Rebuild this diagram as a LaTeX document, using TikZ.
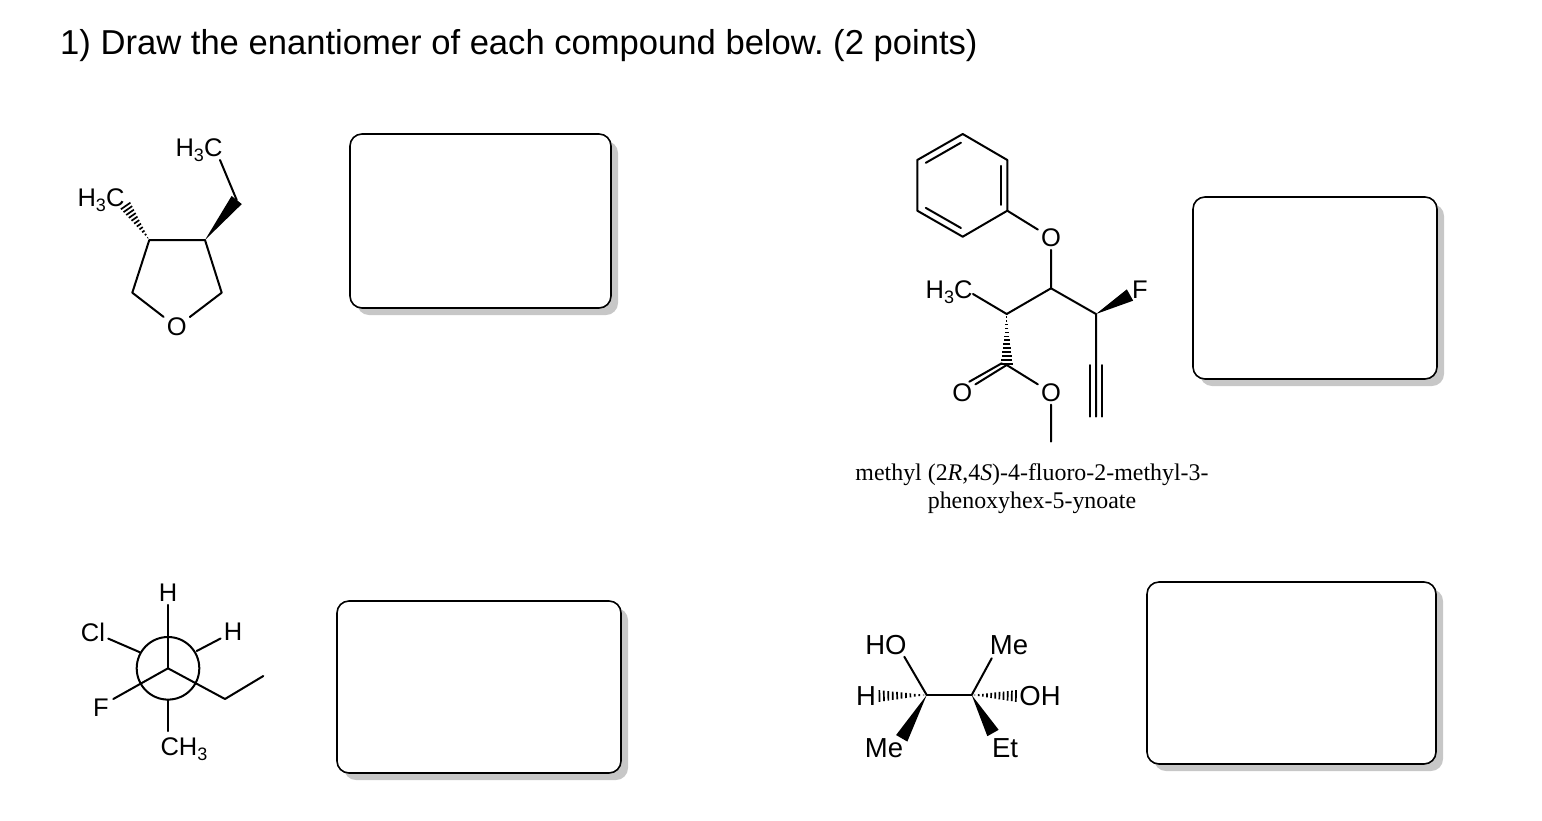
\documentclass[tikz,border=0pt]{standalone}
\usepackage{fontspec}
\setmainfont{Liberation Sans}
\newfontfamily\namefont{Liberation Serif}
\usetikzlibrary{calc,shadows}
\definecolor{shadowgray}{gray}{0.78}
\frenchspacing
\newcommand{\subnum}[1]{\raisebox{-4.5pt}{\fontsize{18}{18}\selectfont #1}}
\newcommand{\wedgebond}[2]{\fill ($(#2)!6.5pt!90:(#1)$) -- (#1) -- ($(#2)!6.5pt!-90:(#1)$) -- cycle;}
\newcommand{\hashbond}[3][11]{
	\foreach \i in {1,...,#1} {
		\pgfmathsetmacro{\t}{(\i-0.3)/#1}
		\coordinate (hashpt) at ($(#2)!\t!(#3)$);
		\draw[hashline] ($(hashpt)!\t*6pt!90:(#3)$) -- ($(hashpt)!\t*6pt!-90:(#3)$);
	}
}
\tikzset{
	bond/.style={line width=2pt, line cap=round, line join=round},
	hashline/.style={line width=1.7pt},
	atom/.style={inner sep=3pt, font=\fontsize{25.5}{28}\selectfont},
	bigatom/.style={atom, inner sep=2pt, font=\fontsize{27.5}{30}\selectfont},
	answerbox/.style={draw, line width=1.6pt, fill=white, rounded corners=12pt, drop shadow={shadow xshift=7pt, shadow yshift=-7pt, fill=shadowgray, opacity=1}},
}

\begin{document}
\begin{tikzpicture}[x=1pt, y=-1pt]
	\useasboundingbox (0,0) rectangle (1542,820);
	\node[anchor=west, inner sep=0pt, font=\fontsize{34.6}{40}\selectfont] (title) at (60,46) {1) Draw the enantiomer of each compound below. (2 points)};

	% answer boxes
	\node[answerbox, minimum width=261pt, minimum height=174pt] (boxa) at (480.5,221) {};
	\node[answerbox, minimum width=244pt, minimum height=182pt] (boxb) at (1315,288) {};
	\node[answerbox, minimum width=284pt, minimum height=172pt] (boxc) at (479,687) {};
	\node[answerbox, minimum width=289pt, minimum height=182pt] (boxd) at (1291.5,673) {};

	% oxolane
	\coordinate (ca) at (149.3,240);
	\coordinate (cb) at (205,240);
	\coordinate (cc) at (221.7,292.7);
	\coordinate (cd) at (132.3,292.7);
	\coordinate (ce) at (236.7,200);
	\coordinate (cf) at (220,160);
	\coordinate (cg) at (125,205);
	\node[atom] (oa) at (176.7,327) {O};
	\node[atom] (ma) at (199,150) {H\subnum{3}C};
	\node[atom] (mb) at (101,200) {H\subnum{3}C};
	\draw[bond] (ca) -- (cb) -- (cc) -- (oa) -- (cd) -- (ca);
	\draw[bond] (ce) -- (cf);
	\wedgebond{cb}{ce}
	\hashbond{ca}{cg}

	% ester
	\coordinate (ra) at (962.7,134);
	\coordinate (rb) at (1007.3,160);
	\coordinate (rc) at (1007.3,210.7);
	\coordinate (rd) at (962.7,236.7);
	\coordinate (re) at (917.3,210.7);
	\coordinate (rf) at (917.3,160);
	\coordinate (rg) at (962.5,185.3);
	\coordinate (sa) at (1051,288.3);
	\coordinate (sb) at (1006.7,314);
	\coordinate (sc) at (1096,314);
	\coordinate (sd) at (1006.7,365);
	\coordinate (se) at (1096,365);
	\coordinate (sf) at (1096,416.7);
	\coordinate (sg) at (1051,441.7);
	\coordinate (sh) at (1130,295);
	\coordinate (si) at (973,294);
	\coordinate (sj) at (1001.7,363.3);
	\coordinate (sk) at (969.3,381.7);
	\node[atom] (ob) at (1051,237.7) {O};
	\node[atom] (oc) at (962.3,392.5) {O};
	\node[atom] (od) at (1051,392.5) {O};
	\node[atom] (fa) at (1140,290) {F};
	\node[atom] (mc) at (949,292) {H\subnum{3}C};
	\draw[bond] (ra) -- (rb) -- (rc) -- (rd) -- (re) -- (rf) -- cycle;
	\draw[bond, shorten >=2pt, shorten <=2pt] ($(rf)!.15!(rg)$) -- ($(ra)!.15!(rg)$);
	\draw[bond, shorten >=2pt, shorten <=2pt] ($(rb)!.15!(rg)$) -- ($(rc)!.15!(rg)$);
	\draw[bond, shorten >=2pt, shorten <=2pt] ($(rd)!.15!(rg)$) -- ($(re)!.15!(rg)$);
	\draw[bond] (rc) -- (ob) -- (sa) -- (sb);
	\draw[bond] (sa) -- (sc) -- (sf);
	\draw[bond] (sb) -- (si);
	\draw[bond] (sd) -- (od) -- (sg);
	\draw[bond] (sd) -- (oc);
	\draw[bond] (sj) -- (sk);
	\draw[bond] ([xshift=-6.2pt]se) -- ([xshift=-6.2pt]sf);
	\draw[bond] ([xshift=6.2pt]se) -- ([xshift=6.2pt]sf);
	\wedgebond{sc}{sh}
	\hashbond[13]{sb}{sd}
	\node[align=center, font={\namefont\fontsize{23.9}{28}\selectfont}, inner sep=0pt] (name) at (1032,489) {methyl (2\textit{R},4\textit{S})-4-fluoro-2-methyl-3-\\phenoxyhex-5-ynoate};

	% newman projection
	\coordinate (na) at (168,668.3);
	\coordinate (nb) at (113.3,699);
	\coordinate (nc) at (225,699);
	\coordinate (nd) at (263.3,676);
	\coordinate (ne) at (140,652.3);
	\coordinate (nf) at (196.7,651);
	\coordinate (ng) at (168,700);
	\coordinate (nh) at (168,731);
	\node[draw, circle, line width=2pt, minimum size=62.6pt, inner sep=0pt] (ring) at (na) {};
	\node[atom] (ha) at (168,593) {H};
	\node[atom] (hb) at (233,632) {H};
	\node[atom] (cl) at (93,632) {Cl};
	\node[atom] (fb) at (101,708) {F};
	\node[atom] (md) at (184,749) {CH\subnum{3}};
	\draw[bond] (na) -- (ha);
	\draw[bond] (na) -- (nb);
	\draw[bond] (na) -- (nc) -- (nd);
	\draw[bond] (ne) -- (cl);
	\draw[bond] (nf) -- (hb);
	\draw[bond] (ng) -- (nh);

	% diol
	\coordinate (da) at (926.7,695);
	\coordinate (db) at (971.7,695);
	\coordinate (dc) at (901.7,738.3);
	\coordinate (dd) at (993,733);
	\coordinate (de) at (904.3,656.7);
	\coordinate (df) at (991.7,658.3);
	\node[bigatom] (he) at (886,645) {HO};
	\node[bigatom] (me) at (1009,645) {Me};
	\node[bigatom] (hf) at (866,696) {H};
	\node[bigatom] (oh) at (1040,696) {OH};
	\node[bigatom] (mf) at (884,748) {Me};
	\node[bigatom] (et) at (1005,748) {Et};
	\draw[bond] (da) -- (db);
	\draw[bond] (da) -- (de);
	\draw[bond] (db) -- (df);
	\wedgebond{da}{dc}
	\wedgebond{db}{dd}
	\hashbond{da}{hf.east}
	\hashbond{db}{oh.west}
\end{tikzpicture}
\end{document}
